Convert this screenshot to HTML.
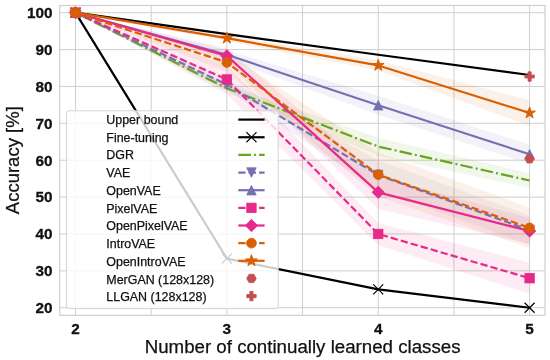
<!DOCTYPE html><html><head><meta charset="utf-8"><title>Accuracy plot</title><style>html,body{margin:0;padding:0;background:#fff}</style></head><body><svg width="550" height="360" viewBox="0 0 550 360" style="display:block;font-family:'Liberation Sans',Arial,sans-serif">
<rect width="550" height="360" fill="#fff"/>
<clipPath id="ax"><rect x="59.7" y="5.5" width="485.3" height="309.8"/></clipPath>
<path d="M75.50 5.5V315.3M151.19 5.5V315.3M226.87 5.5V315.3M302.56 5.5V315.3M378.24 5.5V315.3M453.93 5.5V315.3M529.61 5.5V315.3M59.7 307.74H545.0M59.7 270.86H545.0M59.7 233.98H545.0M59.7 197.10H545.0M59.7 160.22H545.0M59.7 123.34H545.0M59.7 86.46H545.0M59.7 49.58H545.0M59.7 12.70H545.0" stroke="#cfcfcf" stroke-width="1" fill="none"/>
<g clip-path="url(#ax)">
<polygon points="75.50,12.70 226.87,84.62 378.24,137.72 529.61,173.13 529.61,187.88 378.24,155.43 226.87,91.99 75.50,12.70" fill="#66a61e" fill-opacity="0.09"/>
<polygon points="75.50,12.70 226.87,79.08 378.24,160.22 529.61,215.54 529.61,245.04 378.24,189.72 226.87,90.15 75.50,12.70" fill="#7570b3" fill-opacity="0.09"/>
<polygon points="75.50,12.70 226.87,50.32 378.24,95.68 529.61,144.73 529.61,163.91 378.24,114.86 226.87,59.17 75.50,12.70" fill="#7570b3" fill-opacity="0.09"/>
<polygon points="75.50,12.70 226.87,64.70 378.24,222.92 529.61,262.75 529.61,293.73 378.24,245.04 226.87,94.20 75.50,12.70" fill="#e7298a" fill-opacity="0.09"/>
<polygon points="75.50,12.70 226.87,48.47 378.24,175.71 529.61,218.12 529.61,243.94 378.24,208.90 226.87,63.23 75.50,12.70" fill="#e7298a" fill-opacity="0.09"/>
<polygon points="75.50,12.70 226.87,53.27 378.24,152.48 529.61,207.61 529.61,248.18 378.24,196.73 226.87,71.71 75.50,12.70" fill="#d95f02" fill-opacity="0.09"/>
<polygon points="75.50,12.70 226.87,35.20 378.24,60.28 529.61,100.11 529.61,125.92 378.24,70.60 226.87,41.10 75.50,12.70" fill="#d95f02" fill-opacity="0.09"/>
<polyline points="75.50,12.70 226.87,34.09 378.24,54.74 529.61,75.03" fill="none" stroke="#000000" stroke-width="2.2"  stroke-linejoin="round"/>
<polyline points="75.50,12.70 226.87,258.58 378.24,289.30 529.61,307.74" fill="none" stroke="#000000" stroke-width="2.2"  stroke-linejoin="round"/>
<path d="M70.50 7.70L80.50 17.70M70.50 17.70L80.50 7.70" stroke="#000000" stroke-width="1.15" fill="none"/>
<path d="M221.87 253.58L231.87 263.58M221.87 263.58L231.87 253.58" stroke="#000000" stroke-width="1.15" fill="none"/>
<path d="M373.24 284.30L383.24 294.30M373.24 294.30L383.24 284.30" stroke="#000000" stroke-width="1.15" fill="none"/>
<path d="M524.61 302.74L534.61 312.74M524.61 312.74L534.61 302.74" stroke="#000000" stroke-width="1.15" fill="none"/>
<polyline points="75.50,12.70 226.87,88.30 378.24,146.57 529.61,180.50" fill="none" stroke="#66a61e" stroke-width="2.2" stroke-dasharray="12.54 3.14 1.96 3.14" stroke-linejoin="round"/>
<polyline points="75.50,12.70 226.87,84.62 378.24,174.97 529.61,230.29" fill="none" stroke="#7570b3" stroke-width="2.2" stroke-dasharray="7.25 3.14" stroke-linejoin="round"/>
<polygon points="70.75,7.95 80.25,7.95 75.50,17.45" fill="#7570b3" stroke="#7570b3" stroke-width="0.8" stroke-linejoin="miter"/>
<polygon points="222.12,79.87 231.62,79.87 226.87,89.37" fill="#7570b3" stroke="#7570b3" stroke-width="0.8" stroke-linejoin="miter"/>
<polygon points="373.49,170.22 382.99,170.22 378.24,179.72" fill="#7570b3" stroke="#7570b3" stroke-width="0.8" stroke-linejoin="miter"/>
<polygon points="524.86,225.54 534.36,225.54 529.61,235.04" fill="#7570b3" stroke="#7570b3" stroke-width="0.8" stroke-linejoin="miter"/>
<polyline points="75.50,12.70 226.87,54.74 378.24,105.27 529.61,154.32" fill="none" stroke="#7570b3" stroke-width="2.2"  stroke-linejoin="round"/>
<polygon points="70.75,17.45 80.25,17.45 75.50,7.95" fill="#7570b3" stroke="#7570b3" stroke-width="0.8" stroke-linejoin="miter"/>
<polygon points="222.12,59.49 231.62,59.49 226.87,49.99" fill="#7570b3" stroke="#7570b3" stroke-width="0.8" stroke-linejoin="miter"/>
<polygon points="373.49,110.02 382.99,110.02 378.24,100.52" fill="#7570b3" stroke="#7570b3" stroke-width="0.8" stroke-linejoin="miter"/>
<polygon points="524.86,159.07 534.36,159.07 529.61,149.57" fill="#7570b3" stroke="#7570b3" stroke-width="0.8" stroke-linejoin="miter"/>
<polyline points="75.50,12.70 226.87,79.45 378.24,233.98 529.61,278.24" fill="none" stroke="#e7298a" stroke-width="2.2" stroke-dasharray="7.25 3.14" stroke-linejoin="round"/>
<rect x="70.80" y="8.00" width="9.40" height="9.40" fill="#e7298a" stroke="#e7298a" stroke-width="0.8" stroke-linejoin="miter"/>
<rect x="222.17" y="74.75" width="9.40" height="9.40" fill="#e7298a" stroke="#e7298a" stroke-width="0.8" stroke-linejoin="miter"/>
<rect x="373.54" y="229.28" width="9.40" height="9.40" fill="#e7298a" stroke="#e7298a" stroke-width="0.8" stroke-linejoin="miter"/>
<rect x="524.91" y="273.54" width="9.40" height="9.40" fill="#e7298a" stroke="#e7298a" stroke-width="0.8" stroke-linejoin="miter"/>
<polyline points="75.50,12.70 226.87,55.85 378.24,192.31 529.61,231.03" fill="none" stroke="#e7298a" stroke-width="2.2"  stroke-linejoin="round"/>
<polygon points="69.30,12.70 75.50,6.50 81.70,12.70 75.50,18.90" fill="#e7298a" stroke="#e7298a" stroke-width="0.8" stroke-linejoin="miter"/>
<polygon points="220.67,55.85 226.87,49.65 233.07,55.85 226.87,62.05" fill="#e7298a" stroke="#e7298a" stroke-width="0.8" stroke-linejoin="miter"/>
<polygon points="372.04,192.31 378.24,186.11 384.44,192.31 378.24,198.51" fill="#e7298a" stroke="#e7298a" stroke-width="0.8" stroke-linejoin="miter"/>
<polygon points="523.41,231.03 529.61,224.83 535.81,231.03 529.61,237.23" fill="#e7298a" stroke="#e7298a" stroke-width="0.8" stroke-linejoin="miter"/>
<polyline points="75.50,12.70 226.87,62.49 378.24,174.60 529.61,227.89" fill="none" stroke="#d95f02" stroke-width="2.2" stroke-dasharray="7.25 3.14" stroke-linejoin="round"/>
<circle cx="75.50" cy="12.70" r="4.9" fill="#d95f02" stroke="#d95f02" stroke-width="0.8" stroke-linejoin="miter"/>
<circle cx="226.87" cy="62.49" r="4.9" fill="#d95f02" stroke="#d95f02" stroke-width="0.8" stroke-linejoin="miter"/>
<circle cx="378.24" cy="174.60" r="4.9" fill="#d95f02" stroke="#d95f02" stroke-width="0.8" stroke-linejoin="miter"/>
<circle cx="529.61" cy="227.89" r="4.9" fill="#d95f02" stroke="#d95f02" stroke-width="0.8" stroke-linejoin="miter"/>
<polyline points="75.50,12.70 226.87,38.15 378.24,65.44 529.61,113.01" fill="none" stroke="#d95f02" stroke-width="2.2"  stroke-linejoin="round"/>
<polygon points="75.50,6.60 76.87,10.81 81.30,10.81 77.72,13.42 79.09,17.64 75.50,15.03 71.91,17.64 73.28,13.42 69.70,10.81 74.13,10.81" fill="#d95f02" stroke="#d95f02" stroke-width="1" stroke-linejoin="miter"/>
<polygon points="226.87,32.05 228.24,36.26 232.67,36.26 229.09,38.87 230.46,43.08 226.87,40.48 223.28,43.08 224.65,38.87 221.07,36.26 225.50,36.26" fill="#d95f02" stroke="#d95f02" stroke-width="1" stroke-linejoin="miter"/>
<polygon points="378.24,59.34 379.61,63.55 384.04,63.55 380.46,66.16 381.83,70.37 378.24,67.77 374.65,70.37 376.02,66.16 372.44,63.55 376.87,63.55" fill="#d95f02" stroke="#d95f02" stroke-width="1" stroke-linejoin="miter"/>
<polygon points="529.61,106.91 530.98,111.13 535.41,111.13 531.83,113.73 533.20,117.95 529.61,115.34 526.02,117.95 527.39,113.73 523.81,111.13 528.24,111.13" fill="#d95f02" stroke="#d95f02" stroke-width="1" stroke-linejoin="miter"/>
<polygon points="534.41,158.74 532.01,162.90 527.21,162.90 524.81,158.74 527.21,154.59 532.01,154.59" fill="#c44e52" stroke="#c44e52" stroke-width="0.8" stroke-linejoin="miter"/>
<polygon points="528.04,71.80 531.18,71.80 531.18,74.94 534.31,74.94 534.31,78.07 531.18,78.07 531.18,81.20 528.04,81.20 528.04,78.07 524.91,78.07 524.91,74.94 528.04,74.94" fill="#c44e52" stroke="#c44e52" stroke-width="0.8" stroke-linejoin="miter"/>
</g>
<rect x="59.7" y="5.5" width="485.3" height="309.8" fill="none" stroke="#cfcfcf" stroke-width="1.2"/>
<text x="52.6" y="313.04" text-anchor="end" font-size="15.3" font-weight="bold" fill="#111111" stroke="#111111" stroke-width="0.3">20</text>
<text x="52.6" y="276.16" text-anchor="end" font-size="15.3" font-weight="bold" fill="#111111" stroke="#111111" stroke-width="0.3">30</text>
<text x="52.6" y="239.28" text-anchor="end" font-size="15.3" font-weight="bold" fill="#111111" stroke="#111111" stroke-width="0.3">40</text>
<text x="52.6" y="202.40" text-anchor="end" font-size="15.3" font-weight="bold" fill="#111111" stroke="#111111" stroke-width="0.3">50</text>
<text x="52.6" y="165.52" text-anchor="end" font-size="15.3" font-weight="bold" fill="#111111" stroke="#111111" stroke-width="0.3">60</text>
<text x="52.6" y="128.64" text-anchor="end" font-size="15.3" font-weight="bold" fill="#111111" stroke="#111111" stroke-width="0.3">70</text>
<text x="52.6" y="91.76" text-anchor="end" font-size="15.3" font-weight="bold" fill="#111111" stroke="#111111" stroke-width="0.3">80</text>
<text x="52.6" y="54.88" text-anchor="end" font-size="15.3" font-weight="bold" fill="#111111" stroke="#111111" stroke-width="0.3">90</text>
<text x="52.6" y="18.00" text-anchor="end" font-size="15.3" font-weight="bold" fill="#111111" stroke="#111111" stroke-width="0.3">100</text>
<text x="75.50" y="333.6" text-anchor="middle" font-size="15.3" font-weight="bold" fill="#111111" stroke="#111111" stroke-width="0.3">2</text>
<text x="226.87" y="333.6" text-anchor="middle" font-size="15.3" font-weight="bold" fill="#111111" stroke="#111111" stroke-width="0.3">3</text>
<text x="378.24" y="333.6" text-anchor="middle" font-size="15.3" font-weight="bold" fill="#111111" stroke="#111111" stroke-width="0.3">4</text>
<text x="529.61" y="333.6" text-anchor="middle" font-size="15.3" font-weight="bold" fill="#111111" stroke="#111111" stroke-width="0.3">5</text>
<text x="302.6" y="352.8" text-anchor="middle" font-size="18.7" fill="#111111" stroke="#111111" stroke-width="0.25">Number of continually learned classes</text>
<text transform="translate(19.3 160.2) rotate(-90)" text-anchor="middle" font-size="18.5" fill="#111111" stroke="#111111" stroke-width="0.25">Accuracy [%]</text>
<rect x="66.6" y="110.8" width="211.6" height="197.8" rx="2.5" fill="#fff" fill-opacity="0.8" stroke="#d4d4d4" stroke-width="1"/>
<text x="106.3" y="124.00" font-size="12.45" fill="#111" stroke="#111" stroke-width="0.25">Upper bound</text>
<path d="M238.3 119.60H264.6" stroke="#000000" stroke-width="2.2"  fill="none"/>
<text x="106.3" y="141.74" font-size="12.45" fill="#111" stroke="#111" stroke-width="0.25">Fine-tuning</text>
<path d="M238.3 137.25H264.6" stroke="#000000" stroke-width="2.2"  fill="none"/>
<path d="M246.45 132.25L256.45 142.25M246.45 142.25L256.45 132.25" stroke="#000000" stroke-width="1.15" fill="none"/>
<text x="106.3" y="159.48" font-size="12.45" fill="#111" stroke="#111" stroke-width="0.25">DGR</text>
<path d="M238.3 154.90H264.6" stroke="#66a61e" stroke-width="2.2" stroke-dasharray="12.54 3.14 1.96 3.14" fill="none"/>
<text x="106.3" y="177.22" font-size="12.45" fill="#111" stroke="#111" stroke-width="0.25">VAE</text>
<path d="M238.3 172.55H264.6" stroke="#7570b3" stroke-width="2.2" stroke-dasharray="7.25 3.14" fill="none"/>
<polygon points="246.70,167.80 256.20,167.80 251.45,177.30" fill="#7570b3" stroke="#7570b3" stroke-width="0.8" stroke-linejoin="miter"/>
<text x="106.3" y="194.96" font-size="12.45" fill="#111" stroke="#111" stroke-width="0.25">OpenVAE</text>
<path d="M238.3 190.20H264.6" stroke="#7570b3" stroke-width="2.2"  fill="none"/>
<polygon points="246.70,194.95 256.20,194.95 251.45,185.45" fill="#7570b3" stroke="#7570b3" stroke-width="0.8" stroke-linejoin="miter"/>
<text x="106.3" y="212.70" font-size="12.45" fill="#111" stroke="#111" stroke-width="0.25">PixelVAE</text>
<path d="M238.3 207.85H264.6" stroke="#e7298a" stroke-width="2.2" stroke-dasharray="7.25 3.14" fill="none"/>
<rect x="246.75" y="203.15" width="9.40" height="9.40" fill="#e7298a" stroke="#e7298a" stroke-width="0.8" stroke-linejoin="miter"/>
<text x="106.3" y="230.44" font-size="12.45" fill="#111" stroke="#111" stroke-width="0.25">OpenPixelVAE</text>
<path d="M238.3 225.50H264.6" stroke="#e7298a" stroke-width="2.2"  fill="none"/>
<polygon points="245.25,225.50 251.45,219.30 257.65,225.50 251.45,231.70" fill="#e7298a" stroke="#e7298a" stroke-width="0.8" stroke-linejoin="miter"/>
<text x="106.3" y="248.18" font-size="12.45" fill="#111" stroke="#111" stroke-width="0.25">IntroVAE</text>
<path d="M238.3 243.15H264.6" stroke="#d95f02" stroke-width="2.2" stroke-dasharray="7.25 3.14" fill="none"/>
<circle cx="251.45" cy="243.15" r="4.9" fill="#d95f02" stroke="#d95f02" stroke-width="0.8" stroke-linejoin="miter"/>
<text x="106.3" y="265.92" font-size="12.45" fill="#111" stroke="#111" stroke-width="0.25">OpenIntroVAE</text>
<path d="M238.3 260.80H264.6" stroke="#d95f02" stroke-width="2.2"  fill="none"/>
<polygon points="251.45,254.70 252.82,258.91 257.25,258.91 253.67,261.52 255.04,265.74 251.45,263.13 247.86,265.74 249.23,261.52 245.65,258.91 250.08,258.91" fill="#d95f02" stroke="#d95f02" stroke-width="1" stroke-linejoin="miter"/>
<text x="106.3" y="283.66" font-size="12.45" fill="#111" stroke="#111" stroke-width="0.25">MerGAN (128x128)</text>
<polygon points="256.25,278.45 253.85,282.61 249.05,282.61 246.65,278.45 249.05,274.29 253.85,274.29" fill="#c44e52" stroke="#c44e52" stroke-width="0.8" stroke-linejoin="miter"/>
<text x="106.3" y="301.40" font-size="12.45" fill="#111" stroke="#111" stroke-width="0.25">LLGAN (128x128)</text>
<polygon points="249.88,291.40 253.02,291.40 253.02,294.53 256.15,294.53 256.15,297.67 253.02,297.67 253.02,300.80 249.88,300.80 249.88,297.67 246.75,297.67 246.75,294.53 249.88,294.53" fill="#c44e52" stroke="#c44e52" stroke-width="0.8" stroke-linejoin="miter"/>
</svg></body></html>
